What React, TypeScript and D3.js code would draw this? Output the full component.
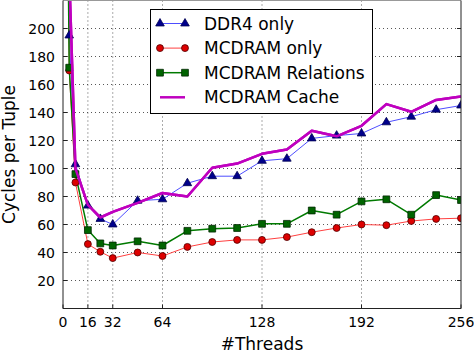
import React from "react";
import * as d3 from "d3";

const threads = [2, 4, 8, 16, 24, 32, 48, 64, 80, 96, 112, 128, 144, 160, 176, 192, 208, 224, 240, 256];
const ddr4Only = [400, 195, 103, 73.5, 64, 60, 77, 78, 89.5, 94.5, 94.5, 105.5, 107, 121.5, 123.5, 125, 133, 137, 142, 145];
const mcdramOnly = [400, 170, 90, 46, 40.5, 36, 40, 37.5, 44, 47.5, 49, 49, 51, 54.5, 57.5, 60, 59.5, 62.5, 64, 64.5];
const mcdramRelations = [400, 172, 96, 56, 46.5, 45, 48, 45, 55.5, 57, 57.5, 60.5, 60.5, 70, 67, 76.5, 78, 67, 81, 77.5];
const mcdramCache = [260, 240, 100, 74, 65, 69, 75.5, 82.5, 80, 100.5, 103.5, 110.5, 113.5, 127, 123, 130.5, 146, 140.5, 149, 151.5];

const xTicks = [0, 16, 32, 64, 128, 192, 256];
const yTicks = [20, 40, 60, 80, 100, 120, 140, 160, 180, 200];
const seriesNames = ["DDR4 only", "MCDRAM only", "MCDRAM Relations", "MCDRAM Cache"];

const W = 474, H = 354;
const L = 63, R = 461, T = 0.5, B = 308.5;
const FONT = "DejaVu Sans, sans-serif";

type Style = { line: string; lw: number; fill?: string; edge?: string; marker?: "tri" | "circle" | "square" };

const styles: Style[] = [
  { line: "#4d4dff", lw: 1, fill: "#00008b", edge: "#000050", marker: "tri" },
  { line: "#ff4040", lw: 1, fill: "#dd0000", edge: "#500000", marker: "circle" },
  { line: "#007a00", lw: 1.5, fill: "#006400", edge: "#002800", marker: "square" },
  { line: "#bf00bf", lw: 2.5 },
];

function markerPath(m: string) {
  if (m === "tri") return d3.symbol(d3.symbolTriangle, 32)()!;
  if (m === "circle") return d3.symbol(d3.symbolCircle, 38)()!;
  return d3.symbol(d3.symbolSquare, 46)()!;
}

export default function App() {
  const x = d3.scaleLinear().domain([0, 256]).range([L, R]);
  const y = d3.scaleLinear().domain([0, 220]).range([B, T]);
  const data = [ddr4Only, mcdramOnly, mcdramRelations, mcdramCache];
  const line = d3
    .line<number>()
    .x((_, i) => x(threads[i]))
    .y((v) => y(v));

  return (
    <svg width={W} height={H} style={{ position: "absolute", left: 0, top: 0, background: "#fff" }}>
      <defs>
        <clipPath id="plot">
          <rect x={L} y={T} width={R - L} height={B - T} />
        </clipPath>
      </defs>
      <rect x={0} y={0} width={W} height={H} fill="#fff" />
      {/* grid */}
      {xTicks.filter((t) => t > 0 && t < 256).map((t) => (
        <line key={"gx" + t} x1={x(t)} x2={x(t)} y1={T} y2={B} stroke="#444" strokeWidth={0.9} strokeDasharray="1,3" />
      ))}
      {yTicks.map((t) => (
        <line key={"gy" + t} x1={L} x2={R} y1={y(t)} y2={y(t)} stroke="#444" strokeWidth={0.9} strokeDasharray="1,3" />
      ))}
      {/* series */}
      <g clipPath="url(#plot)">
        {data.map((vals, si) => (
          <path key={"l" + si} d={line(vals)!} fill="none" stroke={styles[si].line} strokeWidth={styles[si].lw} strokeLinejoin="round" />
        ))}
        {data.map((vals, si) =>
          styles[si].marker
            ? vals.map((v, i) => (
                <path
                  key={"m" + si + "-" + i}
                  d={markerPath(styles[si].marker!)}
                  transform={`translate(${x(threads[i])},${y(v)})`}
                  fill={styles[si].fill}
                  stroke={styles[si].edge}
                  strokeWidth={0.8}
                />
              ))
            : null
        )}
        <path d={line(mcdramCache)!} fill="none" stroke={styles[3].line} strokeWidth={styles[3].lw} strokeLinejoin="round" />
      </g>
      {/* frame */}
      <line x1={L} x2={R} y1={T} y2={T} stroke="#999" strokeWidth={1} />
      <line x1={L} x2={L} y1={T} y2={B} stroke="#222" strokeWidth={1} />
      <line x1={R} x2={R} y1={T} y2={B} stroke="#222" strokeWidth={1} />
      <line x1={L} x2={R} y1={B} y2={B} stroke="#222" strokeWidth={1} />
      {/* ticks */}
      {xTicks.map((t) => (
        <g key={"xt" + t}>
          <line x1={x(t)} x2={x(t)} y1={B} y2={B - 4} stroke="#222" />
          <text x={x(t)} y={327} textAnchor="middle" fontFamily={FONT} fontSize={14} fill="#000">
            {t}
          </text>
        </g>
      ))}
      {yTicks.map((t) => (
        <g key={"yt" + t}>
          <line x1={L} x2={L + 4} y1={y(t)} y2={y(t)} stroke="#222" />
          <line x1={R} x2={R - 4} y1={y(t)} y2={y(t)} stroke="#222" />
          <text x={55} y={y(t) + 5} textAnchor="end" fontFamily={FONT} fontSize={14} fill="#000">
            {t}
          </text>
        </g>
      ))}
      {/* axis labels */}
      <text x={(L + R) / 2} y={350} textAnchor="middle" fontFamily={FONT} fontSize={17} fill="#000">
        #Threads
      </text>
      <text
        transform={`translate(15,${(T + B) / 2}) rotate(-90)`}
        textAnchor="middle"
        fontFamily={FONT}
        fontSize={17}
        fill="#000"
      >
        Cycles per Tuple
      </text>
      {/* legend */}
      <rect x={150.5} y={9.5} width={222} height={104} fill="#fff" stroke="#000" strokeWidth={1} />
      {seriesNames.map((name, i) => {
        const cy = 23.5 + i * 24.6;
        const st = styles[i];
        return (
          <g key={"lg" + i}>
            <line x1={160} x2={185} y1={cy} y2={cy} stroke={st.line} strokeWidth={st.lw} />
            {st.marker
              ? [160, 185].map((mx) => (
                  <path
                    key={mx}
                    d={markerPath(st.marker!)}
                    transform={`translate(${mx},${cy})`}
                    fill={st.fill}
                    stroke={st.edge}
                    strokeWidth={0.8}
                  />
                ))
              : null}
            <text x={204} y={cy + 6} fontFamily={FONT} fontSize={17} fill="#000">
              {name}
            </text>
          </g>
        );
      })}
    </svg>
  );
}
